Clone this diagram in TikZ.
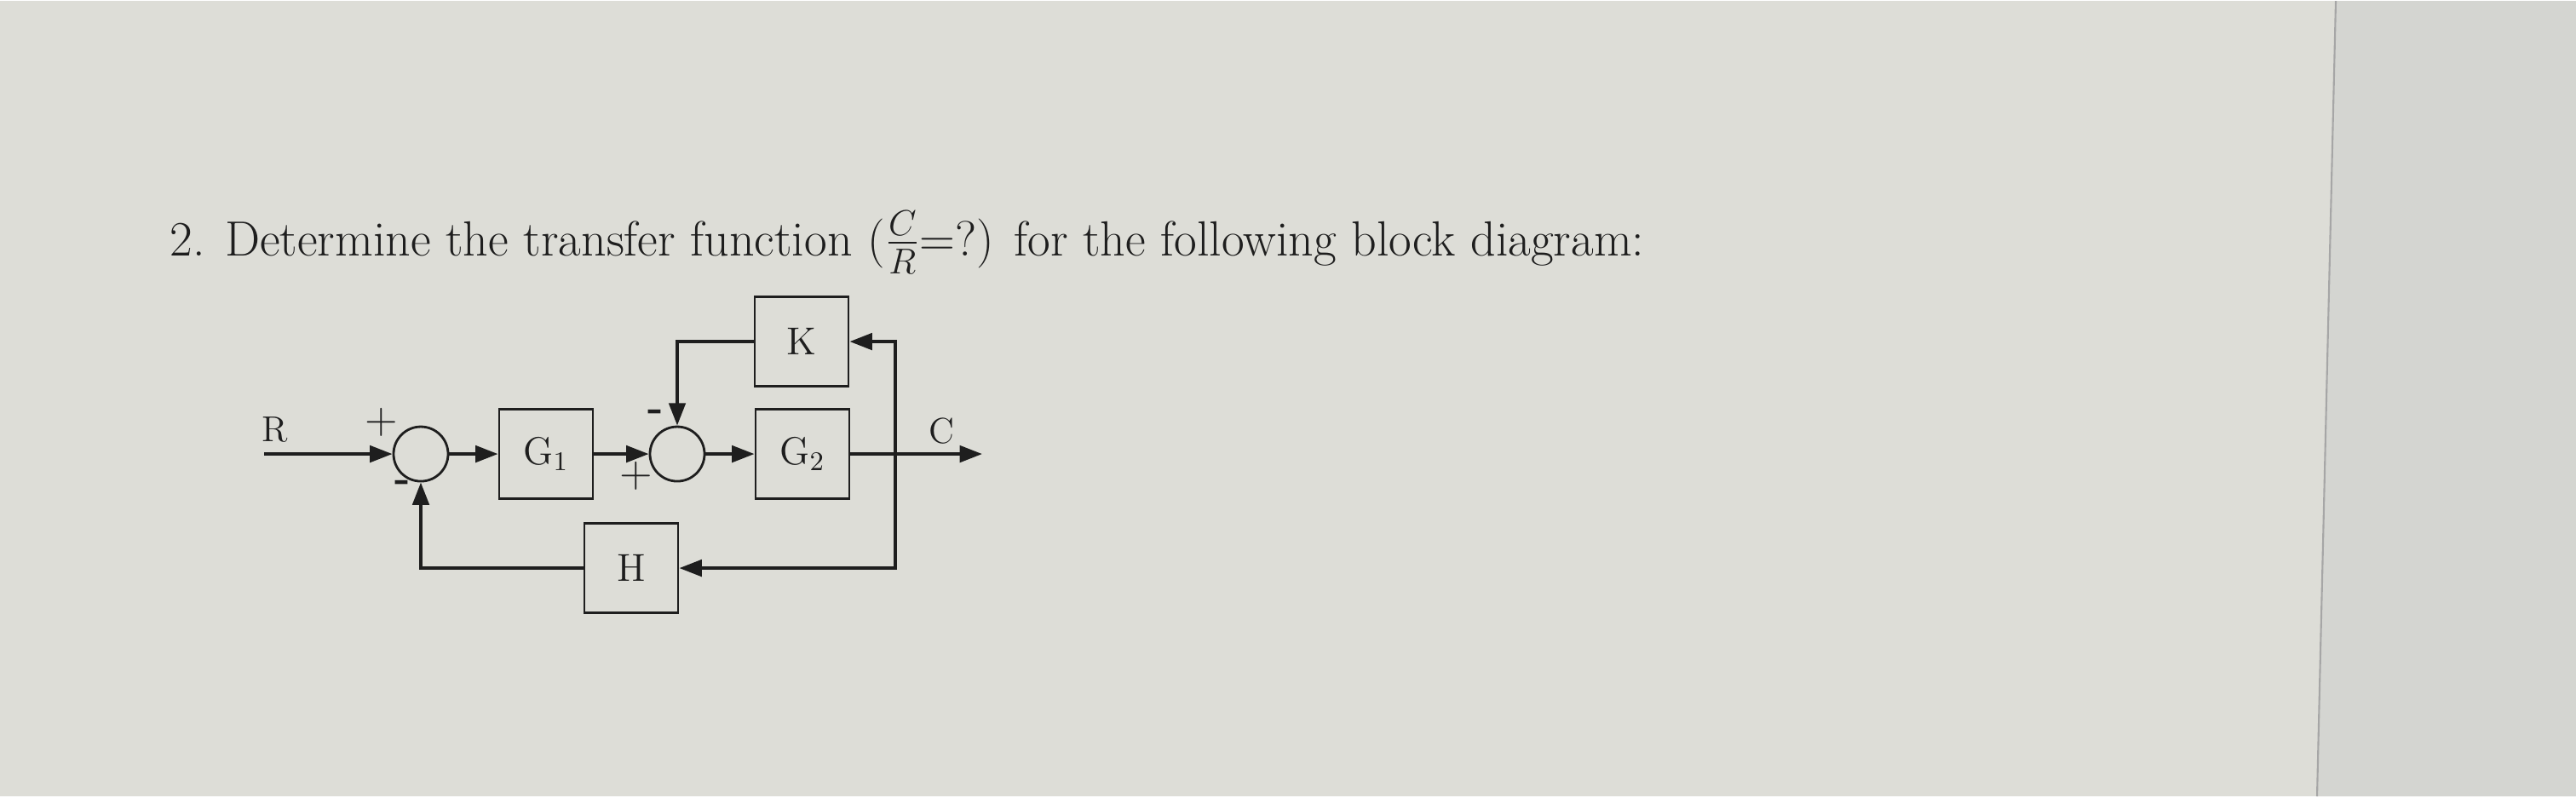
\documentclass[tikz,border=0pt]{standalone}
\usetikzlibrary{calc}
\usetikzlibrary{arrows.meta}

\definecolor{paper}{RGB}{221,221,215}
\definecolor{paperedge}{RGB}{212,213,209}
\definecolor{ink}{RGB}{30,30,30}

\begin{document}
\begin{tikzpicture}[x=0.01cm, y=-0.01cm,
  block/.style={draw=ink, line width=0.8pt, minimum width=1.1cm, minimum height=1.05cm,
    text=ink, font=\fontsize{13}{15}\selectfont},
  sumnode/.style={draw=ink, line width=0.8pt, circle, minimum size=0.64cm, inner sep=0pt},
  sig/.style={draw=ink, line width=1.1pt, -{Triangle[length=7.5pt,width=5.5pt]}},
  lbl/.style={text=ink, inner sep=0pt, font=\fontsize{12}{14}\selectfont},
  sgn/.style={text=ink, inner sep=0pt, font=\fontsize{14}{16}\selectfont}]
\fill[paper] (0,0) rectangle (3024,934);
\fill[paperedge] (2742,0) -- (3024,0) -- (3024,934) -- (2720,934) -- cycle;
\draw[gray!70, line width=0.6pt] (2742,0) -- (2720,934);
\useasboundingbox (0,0) rectangle (3024,934);

\node[anchor=base west, text=ink, inner sep=0pt, font=\fontsize{16.5}{19}\selectfont] (title) at (199,299)
  {2. Determine the transfer function (\(\frac{C}{R}\)=?) for the following block diagram:};

% blocks and summing points
\node[sumnode] (s1) at (494,532) {};
\node[block] (g1) at (641,532) {G$_1$};
\node[sumnode] (s2) at (795,532) {};
\node[block] (g2) at (942,532) {G$_2$};
\node[block] (k) at (941,400) {K};
\node[block] (h) at (741,666) {H};

\coordinate (r) at (310,532);
\coordinate (b) at (1051,532);
\coordinate (c) at (1153,532);

\node[lbl] (rlbl) at (323,503) {R};
\node[lbl] (clbl) at (1105,505) {C};
\node[sgn] (p1) at (448,495) {$+$};
\node[sgn] (m1) at (473,570) {\textbf{-}};
\node[sgn] (m2) at (770,487) {\textbf{-}};
\node[sgn] (p2) at (747,558) {$+$};

% forward path
\draw[sig] (r) -- (s1);
\draw[sig] (s1) -- (g1);
\draw[sig] (g1) -- (s2);
\draw[sig] (s2) -- (g2);
\draw[sig] (g2) -- (c);

% feedback loops
\draw[sig] (b) |- (k);
\draw[sig] (b) |- (h);
\draw[sig] (k) -| (s2);
\draw[sig] (h) -| (s1);

\end{tikzpicture}
\end{document}
